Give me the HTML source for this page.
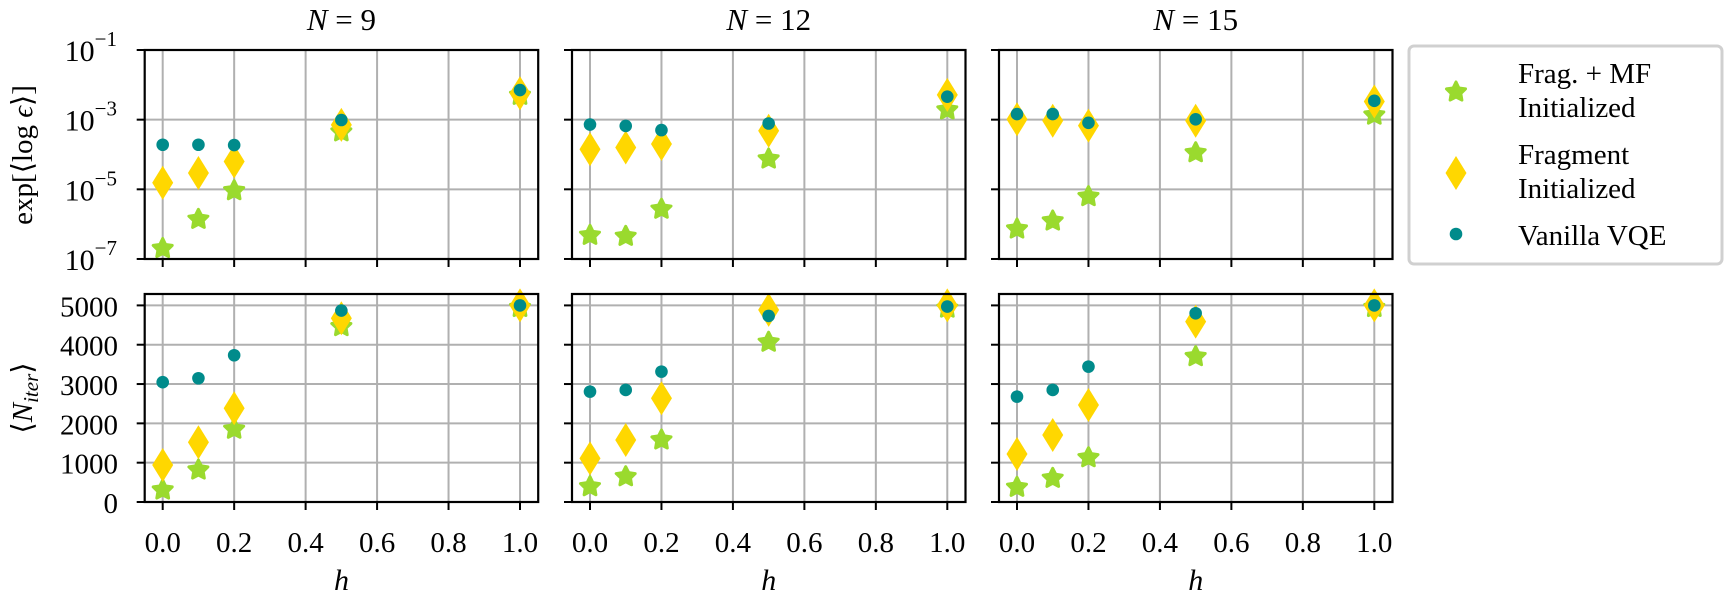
<!DOCTYPE html>
<html><head><meta charset="utf-8"><style>
html,body{margin:0;padding:0;background:#fff;}
svg{display:block;font-family:"Liberation Serif","DejaVu Serif",serif;}
</style></head><body>
<svg id="s" width="1725" height="598" xmlns="http://www.w3.org/2000/svg"></svg>
<script>
(function(){
const S=document.getElementById('s');let h='';
const lefts=[144.7,572,999],W=393.5;
const hs=[0,0.1,0.2,0.5,1.0];
const xs=(L,v)=>L+18+v*357.3;
const ty=l=>50+(-1-l)*34.83;
const by=v=>502-v*0.03932;
const topData=[
 {v:[-3.72,-3.72,-3.73,-3.01,-2.15],d:[-4.81,-4.53,-4.2,-3.15,-2.24],s:[-6.7,-5.86,-5.04,-3.35,-2.3]},
 {v:[-3.14,-3.18,-3.3,-3.11,-2.34],d:[-3.85,-3.8,-3.7,-3.32,-2.29],s:[-6.32,-6.35,-5.57,-4.13,-2.72]},
 {v:[-2.84,-2.84,-3.09,-2.99,-2.46],d:[-2.99,-3.03,-3.17,-3.03,-2.48],s:[-6.14,-5.91,-5.21,-3.95,-2.87]}];
const botData=[
 {v:[3046,3147,3732,4868,5000],d:[941,1518,2384,4674,5000],s:[305,814,1850,4461,4950]},
 {v:[2807,2850,3316,4733,4970],d:[1110,1578,2638,4885,5000],s:[390,644,1578,4063,4930]},
 {v:[2680,2850,3443,4800,5000],d:[1221,1705,2468,4588,5000],s:[374,603,1127,3697,4950]}];
function star(x,y,r){let p=[];for(let i=0;i<10;i++){const a=-Math.PI/2+i*Math.PI/5;const rr=i%2?r*0.5:r;p.push((x+rr*Math.cos(a)).toFixed(1)+','+(y+rr*Math.sin(a)).toFixed(1));}
 return '<polygon points="'+p.join(' ')+'" fill="#9ada2e" stroke="#9ada2e" stroke-width="3" stroke-linejoin="round"/>';}
function dia(x,y){return '<polygon points="'+x+','+(y-17)+' '+(x+10.5)+','+y+' '+x+','+(y+17)+' '+(x-10.5)+','+y+'" fill="#ffd700"/>';}
function dot(x,y){return '<circle cx="'+x+'" cy="'+y+'" r="6.3" fill="#008b8b"/>';}
function panel(L,T,B,yt,yf,data){
 let o='';
 for(const v of [0,0.2,0.4,0.6,0.8,1.0]){const x=xs(L,v);o+='<line x1="'+x+'" y1="'+T+'" x2="'+x+'" y2="'+B+'" stroke="#b0b0b0" stroke-width="2"/>';o+='<line x1="'+x+'" y1="'+B+'" x2="'+x+'" y2="'+(B+8)+'" stroke="#000" stroke-width="2"/>';}
 for(const t of yt){const y=yf(t);o+='<line x1="'+L+'" y1="'+y+'" x2="'+(L+W)+'" y2="'+y+'" stroke="#b0b0b0" stroke-width="2"/>';o+='<line x1="'+(L-8)+'" y1="'+y+'" x2="'+L+'" y2="'+y+'" stroke="#000" stroke-width="2"/>';}
 for(let i=0;i<5;i++){o+=star(xs(L,hs[i]),yf(data.s[i]),10);}
 for(let i=0;i<5;i++){o+=dia(xs(L,hs[i]),yf(data.d[i]));}
 for(let i=0;i<5;i++){o+=dot(xs(L,hs[i]),yf(data.v[i]));}
 o+='<rect x="'+L+'" y="'+T+'" width="'+W+'" height="'+(B-T)+'" fill="none" stroke="#000" stroke-width="2.2"/>';
 return o;}
const titles=['9','12','15'];
for(let p=0;p<3;p++){
 const L=lefts[p];
 h+=panel(L,50,259,[-1,-3,-5,-7],ty,topData[p]);
 h+=panel(L,294,502,[0,1000,2000,3000,4000,5000],by,botData[p]);
 h+='<text x="'+(L+W/2)+'" y="30" font-size="31" text-anchor="middle"><tspan font-style="italic">N</tspan> = '+titles[p]+'</text>';
 for(const v of [0,0.2,0.4,0.6,0.8,1.0]){h+='<text x="'+xs(L,v)+'" y="552" font-size="29" text-anchor="middle">'+v.toFixed(1)+'</text>';}
 h+='<text x="'+(L+W/2)+'" y="590" font-size="30" font-style="italic" text-anchor="middle">h</text>';
}
for(const e of [1,3,5,7]){const y=ty(-e);h+='<text x="117" y="'+(y+11)+'" font-size="30" text-anchor="end">10<tspan dy="-15" font-size="21">−'+e+'</tspan></text>';}
for(const v of [0,1000,2000,3000,4000,5000]){h+='<text x="118" y="'+(by(v)+11)+'" font-size="29" text-anchor="end">'+v+'</text>';}
h+='<text transform="translate(32,155) rotate(-90)" font-size="29" text-anchor="middle">exp[⟨log <tspan font-style="italic">ϵ</tspan>⟩]</text>';
h+='<text transform="translate(32,398) rotate(-90)" font-size="29" text-anchor="middle">⟨<tspan font-style="italic">N</tspan><tspan font-style="italic" font-size="21" dy="6">iter</tspan><tspan dy="-6">⟩</tspan></text>';
h+='<rect x="1409" y="46" width="313" height="218" rx="5" fill="#fff" stroke="#d0d0d0" stroke-width="3"/>';
h+=star(1456,92,10)+dia(1456,173)+dot(1456,234);
h+='<text x="1518" y="83" font-size="29">Frag. + MF</text><text x="1518" y="117" font-size="29">Initialized</text>';
h+='<text x="1518" y="164" font-size="29">Fragment</text><text x="1518" y="198" font-size="29">Initialized</text>';
h+='<text x="1518" y="245" font-size="29">Vanilla VQE</text>';
S.innerHTML=h;
})();
</script>
</body></html>
